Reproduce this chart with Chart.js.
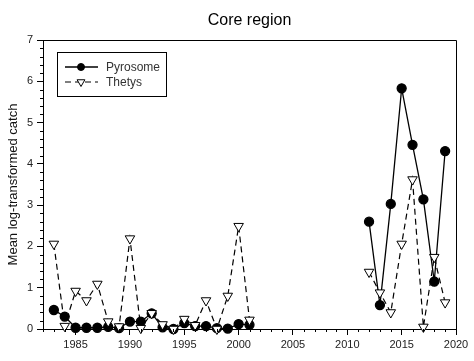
<!DOCTYPE html>
<html>
<head>
<meta charset="utf-8">
<script src="https://cdn.jsdelivr.net/npm/chart.js@4.4.1/dist/chart.umd.min.js"></script>
<style>
	body { margin: 0; background: #fff; }
	#wrap { width: 474px; height: 361px; position: relative; }
</style>
</head>
<body>
<div id="wrap"><canvas id="coreChart"></canvas></div>
<script>
var years = [1983,1984,1985,1986,1987,1988,1989,1990,1991,1992,1993,1994,1995,1996,1997,1998,1999,2000,2001,
	2002,2003,2004,2005,2006,2007,2008,2009,2010,2011,
	2012,2013,2014,2015,2016,2017,2018,2019];
var pyrosome = [0.46,0.30,0.03,0.03,0.03,0.05,0.02,0.18,0.18,0.38,0.04,0.00,0.14,0.07,0.07,0.02,0.01,0.12,0.10,
	null,null,null,null,null,null,null,null,null,null,
	2.60,0.58,3.03,5.83,4.46,3.14,1.15,4.31];
var thetys = [2.06,0.07,0.92,0.69,1.09,0.18,0.06,2.19,0.02,0.38,0.11,0.00,0.24,0.09,0.69,0.00,0.80,2.49,0.22,
	null,null,null,null,null,null,null,null,null,null,
	1.38,0.88,0.40,2.06,3.62,0.05,1.74,0.64];
var xTicks = [1985,1990,1995,2000,2005,2010,2015,2020];
var yTicks = [0,1,2,3,4,5,6,7];
var seriesNames = ["Pyrosome", "Thetys"];

var fontFam = "'Liberation Sans', Arial, sans-serif";

function toPoints(vals){
	return years.map(function(y, i){ return { x: y, y: vals[i] }; });
}

// title, minor ticks, top/right frame and the boxed legend
var extras = {
	id: 'extras',
	afterDraw: function(chart){
		var ctx = chart.ctx, a = chart.chartArea;
		var xs = chart.scales.x, ys = chart.scales.y;
		ctx.save();
		ctx.strokeStyle = '#000';
		ctx.lineWidth = 1;
		ctx.beginPath();
		ctx.moveTo(a.left, a.top + 0.5); ctx.lineTo(a.right + 0.5, a.top + 0.5); ctx.lineTo(a.right + 0.5, a.bottom);
		ctx.stroke();
		ctx.beginPath();
		for (var yr = 1982; yr <= 2020; yr++) {
			if (yr % 5 == 0) continue;
			var px = Math.round(xs.getPixelForValue(yr)) + 0.5;
			ctx.moveTo(px, a.bottom); ctx.lineTo(px, a.bottom + 3);
		}
		for (var v = 0; v <= 7.001; v += 0.2) {
			if (Math.abs(v - Math.round(v)) < 0.01) continue;
			var py = Math.round(ys.getPixelForValue(v)) + 0.5;
			ctx.moveTo(a.left, py); ctx.lineTo(a.left - 3, py);
		}
		ctx.stroke();

		ctx.fillStyle = '#000';
		ctx.font = '16px ' + fontFam;
		ctx.textAlign = 'center';
		ctx.textBaseline = 'middle';
		ctx.fillText('Core region', (a.left + a.right) / 2, 21);

		// legend
		var lx = 57, ly = 52, lw = 109, lh = 44;
		ctx.strokeRect(lx + 0.5, ly + 0.5, lw, lh);
		ctx.font = '12px ' + fontFam;
		ctx.textAlign = 'left';
		chart.data.datasets.forEach(function(ds, i){
			var cy = 67 + i * 15;
			ctx.strokeStyle = '#000';
			ctx.setLineDash(ds.borderDash || []);
			ctx.lineWidth = ds.borderWidth;
			ctx.beginPath(); ctx.moveTo(65, cy); ctx.lineTo(98, cy); ctx.stroke();
			ctx.setLineDash([]);
			ctx.lineWidth = 1;
			ctx.fillStyle = ds.pointBackgroundColor;
			Chart.helpers.drawPoint(ctx, {
				pointStyle: ds.pointStyle, radius: ds.pointRadius - 1, rotation: ds.pointRotation || 0, borderWidth: 1
			}, 81, cy);
			ctx.fillStyle = '#333';
			ctx.fillText(ds.label, 106, cy + 1);
		});
		ctx.restore();
	}
};

var ctx = document.getElementById('coreChart').getContext('2d');
window.coreChart = new Chart(ctx, {
	type: 'line',
	data: {
		datasets: [
			{ label: seriesNames[0], data: toPoints(pyrosome), borderColor: '#000', borderWidth: 1.3,
				pointStyle: 'circle', pointRadius: 4.5, pointBackgroundColor: '#000', pointBorderColor: '#000',
				spanGaps: false, clip: false, order: 2, tension: 0 },
			{ label: seriesNames[1], data: toPoints(thetys), borderColor: '#000', borderWidth: 1.2, borderDash: [6, 4],
				pointStyle: 'triangle', pointRotation: 180, pointRadius: 5.5, pointBackgroundColor: '#fff', pointBorderColor: '#000',
				pointBorderWidth: 1, spanGaps: false, clip: false, order: 1, tension: 0 }
		]
	},
	options: {
		responsive: true, maintainAspectRatio: false, animation: false,
		layout: { padding: { top: 40, right: 18, left: 0, bottom: 0 } },
		plugins: { legend: { display: false }, title: { display: false }, tooltip: { enabled: false } },
		scales: {
			x: {
				type: 'linear', min: 1982, max: 2020,
				afterBuildTicks: function(s){ s.ticks = xTicks.map(function(v){ return { value: v }; }); },
				afterFit: function(s){ s.height = 32; },
				ticks: { color: '#222', font: { size: 11, family: fontFam }, padding: 3, maxRotation: 0, callback: function(v){ return String(v); } },
				grid: { drawOnChartArea: false, drawTicks: true, tickLength: 6, color: '#000' },
				border: { display: true, color: '#000', width: 1 }
			},
			y: {
				min: 0, max: 7,
				afterBuildTicks: function(s){ s.ticks = yTicks.map(function(v){ return { value: v }; }); },
				afterFit: function(s){ s.width = 43; },
				ticks: { color: '#222', font: { size: 11, family: fontFam }, padding: 4 },
				grid: { drawOnChartArea: false, drawTicks: true, tickLength: 6, color: '#000' },
				border: { display: true, color: '#000', width: 1 },
				title: { display: true, text: 'Mean log-transformed catch', color: '#111', font: { size: 13, family: fontFam }, padding: { top: 6, bottom: 0 } }
			}
		}
	},
	plugins: [extras]
});
</script>
</body>
</html>
